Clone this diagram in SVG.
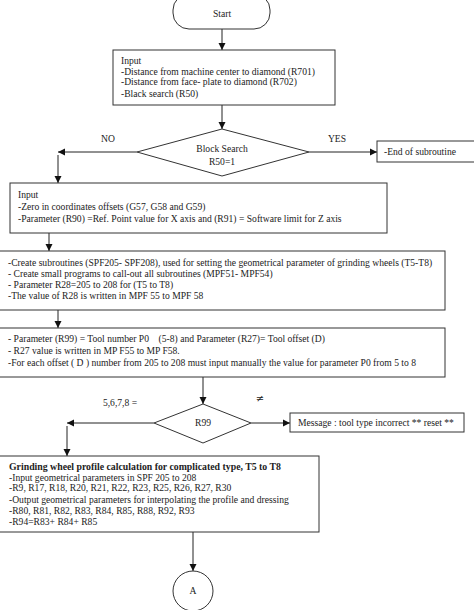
<svg xmlns="http://www.w3.org/2000/svg" width="474" height="610" viewBox="0 0 474 610">
<style>
.box{fill:#fff;stroke:#333;stroke-width:1}
.t{font-family:"Liberation Serif","Times New Roman",serif;font-size:9.6px;fill:#222}
.c{text-anchor:middle}
.b{font-weight:bold;font-size:9.8px}
.ne{font-family:"DejaVu Serif","Liberation Serif",serif;font-size:10px}
.ln{fill:none;stroke:#222;stroke-width:1}
</style>
<defs>
<marker id="ah" markerWidth="8" markerHeight="8" refX="7" refY="4" orient="auto" markerUnits="userSpaceOnUse">
<path d="M0,0.5 L7,4 L0,7.5 Z" fill="#111"/>
</marker>
</defs>
<rect width="474" height="610" fill="#fff"/>
<g id="connectors">
<line class="ln" x1="222" y1="29" x2="222" y2="50" marker-end="url(#ah)"/>
<line class="ln" x1="222" y1="105" x2="222" y2="129" marker-end="url(#ah)"/>
<line class="ln" x1="137" y1="152" x2="58" y2="152" marker-end="url(#ah)"/>
<line class="ln" x1="58" y1="155" x2="58" y2="183" marker-end="url(#ah)"/>
<line class="ln" x1="309" y1="152" x2="377" y2="152" marker-end="url(#ah)"/>
<line class="ln" x1="49" y1="233" x2="49" y2="251" marker-end="url(#ah)"/>
<line class="ln" x1="58" y1="310" x2="58" y2="328" marker-end="url(#ah)"/>
<line class="ln" x1="203" y1="377" x2="203" y2="404" marker-end="url(#ah)"/>
<line class="ln" x1="154" y1="423" x2="67" y2="423" marker-end="url(#ah)"/>
<line class="ln" x1="67" y1="426" x2="67" y2="456" marker-end="url(#ah)"/>
<line class="ln" x1="251" y1="423" x2="290" y2="423" marker-end="url(#ah)"/>
<line class="ln" x1="193" y1="532" x2="193" y2="571" marker-end="url(#ah)"/>
<text class="t c" x="108" y="142">NO</text>
<text class="t c" x="337" y="142">YES</text>
<text class="t c" x="120" y="406">5,6,7,8 =</text>
<text class="t c ne" x="260" y="402">≠</text>
</g>
<g id="start">
<rect class="box" x="173" y="-6" width="97" height="35" rx="16" ry="16"/>
<text class="t c" x="222" y="17">Start</text>
</g>
<g id="input1">
<rect class="box" x="113" y="50" width="222" height="55"/>
<text class="t" x="121" y="64">Input</text>
<text class="t" x="121" y="74.5">-Distance from machine center to diamond (R701)</text>
<text class="t" x="121" y="85">-Distance from face- plate to diamond (R702)</text>
<text class="t" x="121" y="96.5">-Black search (R50)</text>
</g>
<g id="decision1">
<polygon class="box" points="222,129 309,152 222,176 137,152"/>
<text class="t c" x="222" y="152">Block Search</text>
<text class="t c" x="222" y="165">R50=1</text>
</g>
<g id="end">
<rect class="box" x="377" y="141" width="100" height="21"/>
<text class="t" x="384" y="155">-End of subroutine</text>
</g>
<g id="input2">
<rect class="box" x="10" y="183" width="377" height="50"/>
<text class="t" x="18" y="198">Input</text>
<text class="t" x="18" y="210">-Zero in coordinates offsets (G57, G58 and G59)</text>
<text class="t" x="18" y="222">-Parameter (R90) =Ref. Point value for X axis and (R91) = Software limit for Z axis</text>
</g>
<g id="create">
<rect class="box" x="-1" y="251" width="446" height="59"/>
<text class="t" x="8" y="266">-Create subroutines (SPF205- SPF208), used for setting the geometrical parameter of grinding wheels (T5-T8)</text>
<text class="t" x="8" y="276.5">- Create small programs to call-out all subroutines (MPF51- MPF54)</text>
<text class="t" x="8" y="287.5">- Parameter R28=205 to 208  for (T5 to T8)</text>
<text class="t" x="8" y="299">-The value of R28 is written in MPF 55 to  MPF 58</text>
</g>
<g id="params">
<rect class="box" x="-1" y="328" width="446" height="49"/>
<text class="t" x="8" y="342" xml:space="preserve">- Parameter (R99) = Tool number P0    (5-8) and Parameter (R27)= Tool offset (D)</text>
<text class="t" x="8" y="354">- R27 value is written in MP F55 to MP F58.</text>
<text class="t" x="8" y="365.5">-For each offset ( D ) number from 205 to 208 must input manually the value for parameter P0 from 5 to 8</text>
</g>
<g id="decision2">
<polygon class="box" points="203,404 251,423 203,443 154,423"/>
<text class="t c" x="203" y="426">R99</text>
</g>
<g id="message">
<rect class="box" x="290" y="413" width="174" height="19"/>
<text class="t" x="298" y="426">Message : tool type incorrect ** reset **</text>
</g>
<g id="grinding">
<rect class="box" x="-1" y="456" width="320" height="76"/>
<text class="t b" x="9" y="469.5">Grinding wheel profile calculation for complicated type, T5 to T8</text>
<text class="t" x="9" y="480.5">-Input geometrical parameters in SPF 205 to 208</text>
<text class="t" x="9" y="491">-R9, R17, R18, R20, R21, R22, R23, R25, R26, R27, R30</text>
<text class="t" x="9" y="502.5">-Output geometrical parameters for interpolating the profile and dressing</text>
<text class="t" x="9" y="514">-R80, R81, R82, R83, R84, R85, R88, R92, R93</text>
<text class="t" x="9" y="525">-R94=R83+ R84+ R85</text>
</g>
<g id="connectorA">
<circle class="box" cx="193" cy="591" r="20"/>
<text class="t c" x="193" y="594">A</text>
</g>
</svg>
